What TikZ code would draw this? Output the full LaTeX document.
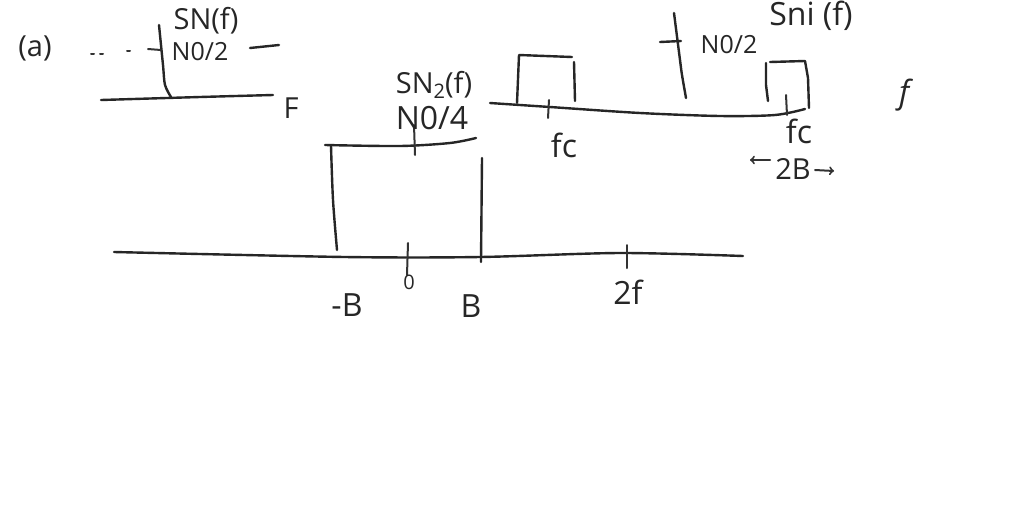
\documentclass[tikz,border=0pt]{standalone}
\usepackage{fontspec}
\setmainfont{Open Sans}
\usetikzlibrary{arrows}
\tikzset{
pen/.style={line width=2.4pt, line cap=round, line join=round, black!85}, % the main marker strokes
thinpen/.style={line width=2pt, line cap=round, black!80}, % the ticks
hand/.style={inner sep=0pt, black!85, font=\fontsize{32}{32}\selectfont}, % the big labels
small/.style={hand, font=\fontsize{25}{25}\selectfont}, % the level labels
wide/.style={hand, font=\fontsize{29}{29}\selectfont}, % the spectrum names
}
\begin{document}
\begin{tikzpicture}[x=1pt, y=-1pt]
                \useasboundingbox (0,0) rectangle (1024,512);
                \fill[white] (0,0) rectangle (1024,512);
                % first spectrum
                \draw[pen] plot[smooth] coordinates {(101,100) (200,97) (273,95)};
                \draw[pen] plot[smooth] coordinates {(159,25) (163,65) (165,85) (171,97)};
                \draw[thinpen] (148,49) -- (161,50);
                \draw[thinpen] (91,54) -- (94,54) (100,54) -- (103,54) (127,51) -- (130,51);
                \draw[pen] (250,48) -- (279,45);
                \node[wide] (parta) at (35,48) {(a)};
                \node[wide] (snf) at (206,21) {SN(f)};
                \node[small] (nolevel) at (200,52) {N0/2};
                \node[wide] (bigf) at (291,108) {F};
                % second spectrum
                \draw[pen] plot[smooth] coordinates {(490,103) (550,107) (640,113) (720,116) (775,115) (805,109)};
                \draw[pen] (517,103) -- (519,55) -- (572,57);
                \draw[pen] (574,62) -- (575,101);
                \draw[thinpen] (549,100) -- (548,118);
                \draw[pen] plot[smooth] coordinates {(674,13) (680,60) (682,75) (686,98)};
                \draw[pen] (660,42) -- (681,41);
                \draw[pen] (766,63) -- (766,85) -- (768,101);
                \draw[pen] (770,62) -- (805,61) -- (808,78) -- (809,108);
                \draw[thinpen] (786,95) -- (787,115);
                \node[hand] (fcleft) at (564,145) {fc};
                \node[small] (nolevelb) at (729,45) {N0/2};
                \node[hand] (fcright) at (799,131) {fc};
                \node[hand] (snif) at (811,16) {Sni (f)};
                \node[wide] (band) at (793,169) {2B};
                \draw[thinpen, ->] (770,160) -- (750,160);
                \draw[thinpen, ->] (815,170) -- (834,171);
                \node[hand, font=\fontsize{32}{32}\itshape] (freeF) at (904,95) {f};
                % third spectrum
                \draw[pen] plot[smooth] coordinates {(114,252) (345,257) (480,257) (620,253) (743,256)};
                \draw[pen] plot[smooth] coordinates {(325,145) (400,146) (450,143) (476,138)};
                \draw[pen] plot[smooth] coordinates {(331,146) (333,200) (337,250)};
                \draw[pen] (482,158) -- (481,262);
                \draw[thinpen] (414,125) -- (415,155);
                \draw[thinpen] (408,243) -- (407,275);
                \draw[thinpen] (627,245) -- (627,268);
                \node[wide] (sntwo) at (434,85) {SN\raisebox{-5pt}{\fontsize{20}{20}\selectfont 2}(f)};
                \node[hand] (nofour) at (432,118) {N0/4};
                \node[small, font=\fontsize{20}{20}\selectfont] (zero) at (409,282) {0};
                \node[hand] (minusb) at (347,305) {-B};
                \node[hand] (plusb) at (471,306) {B};
                \node[hand] (twof) at (628,292) {2f};
                \end{tikzpicture}
\end{document}
